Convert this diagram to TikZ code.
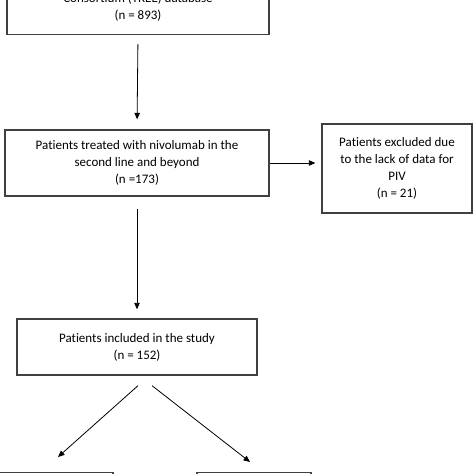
\documentclass[tikz,border=0pt]{standalone}
\usepackage{fontspec}
\setmainfont{Carlito}[Ligatures=NoCommon]
\usetikzlibrary{arrows.meta,calc}
\begin{document}
\begin{tikzpicture}[x=1bp,y=-1bp,
  box/.style={draw=black!75,line width=1.3bp,align=center,inner sep=0pt,
    font=\fontsize{13bp}{17bp}\selectfont,text=black},
  arr/.style={draw=black,line width=0.8bp,-{Triangle[length=6.5bp,width=5.5bp]}}]
\useasboundingbox[clip] (0,0) rectangle (474,474);
\fill[white] (0,0) rectangle (474,474);
\node[box,minimum width=262bp,minimum height=54bp] (b1) at (138,7.5)
  {Consortium (TREE) database\\(n = 893)};
\node[box,minimum width=264bp,minimum height=66bp] (b2) at (137,163)
  {Patients treated with nivolumab in the\\second line and beyond\\(n =173)};
\node[box,minimum width=150bp,minimum height=89bp] (b3) at (397,168.5)
  {Patients excluded due\\to the lack of data for\\PIV\\(n = 21)};
\node[box,minimum width=240bp,minimum height=56bp] (b4) at (137,347)
  {Patients included in the study\\(n = 152)};
\node[box,minimum width=114bp,minimum height=40bp,anchor=north] (b5) at (56,472) {};
\node[box,minimum width=114bp,minimum height=40bp,anchor=north] (b6) at (254,472) {};
\draw[arr,shorten <=9bp,shorten >=10bp] (b1.south) -- (b2.north);
\draw[arr,shorten >=6bp] (b2.east) -- (b2.east -| b3.west);
\draw[arr,shorten <=12bp,shorten >=9bp] (b2.south) -- (b4.north);
\draw[arr] ($(b4.south)+(1,10)$) -- ($(b5.north)+(2,-15)$);
\draw[arr] ($(b4.south)+(15,10)$) -- ($(b6.north)+(-4,-10)$);
\end{tikzpicture}
\end{document}
